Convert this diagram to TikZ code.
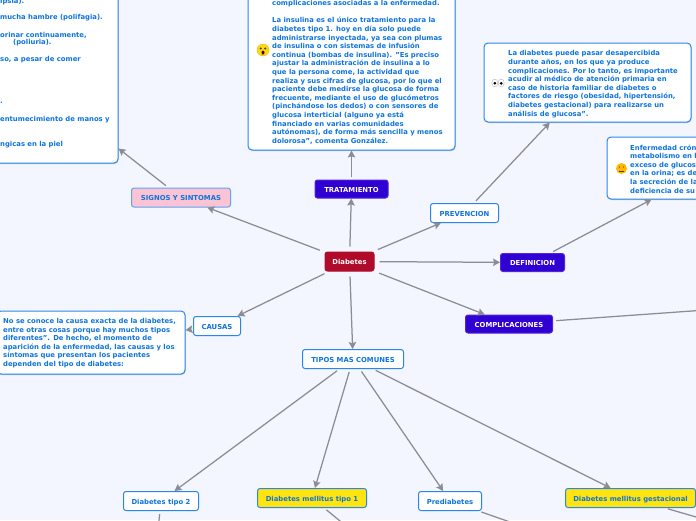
\documentclass[tikz,border=0pt]{standalone}
\usepackage{fontspec}
\setmainfont{DejaVu Sans}
\usetikzlibrary{arrows.meta,shadows}
\definecolor{pagebg}{HTML}{F3F6FF}
\definecolor{ink}{HTML}{0F74DC}
\definecolor{edgeblue}{HTML}{2A86EE}
\definecolor{conn}{HTML}{8C8C94}
\definecolor{rootred}{HTML}{B00B2A}
\definecolor{mainblue}{HTML}{3000D2}
\definecolor{pinkfill}{HTML}{FBC4D4}
\definecolor{yellowfill}{HTML}{FFE40F}
\tikzset{
  x=1pt,y=-1pt,
  txt/.style={font=\bfseries\fontsize{6.85}{8.6}\selectfont,text=ink},
  topic/.style={txt,rounded corners=2.5pt,inner sep=0pt,line width=1pt,text height=6pt,text depth=0pt},
  plainbox/.style={topic,draw=edgeblue,fill=white},
  darkbox/.style={topic,draw=mainblue!85!white,fill=mainblue,text=white},
  pinkbox/.style={topic,draw=edgeblue!75!white,fill=pinkfill},
  yellowbox/.style={topic,draw=edgeblue,fill=yellowfill},
  rootbox/.style={topic,draw=rootred,fill=rootred,text=white},
  bigbox/.style={rounded corners=4pt,draw=edgeblue,line width=1pt,fill=white,inner sep=0pt,
    drop shadow={shadow xshift=0.5pt,shadow yshift=-1pt,opacity=.35,fill=black!60}},
  bodytext/.style={txt,align=left,anchor=north west,inner sep=0pt},
  frag/.style={txt,anchor=west,inner sep=0pt},
  link/.style={draw=conn,line width=1.25pt,-{Stealth[length=7pt,width=7.5pt,inset=1.2pt]},shorten <=3pt},
  freelink/.style={draw=conn,line width=1.25pt,shorten <=3pt},
  rootlink/.style={link,shorten <=5pt}
}
\begin{document}
\begin{tikzpicture}
\useasboundingbox (0,0) rectangle (696,520);
\clip (0,0) rectangle (696,520);
\fill[pagebg] (0,0) rectangle (696,520);

% large content boxes
\node[bigbox,minimum width=240pt,minimum height=218pt] (signosbox) at (-2,54) {};
\node[bigbox,minimum width=207pt,minimum height=220pt] (tratbox) at (351.5,40) {};
\node[bigbox,minimum width=207pt,minimum height=79pt] (prevbox) at (587.5,82.5) {};
\node[bigbox,minimum width=208pt,minimum height=62pt] (defbox) at (711,168) {};
\node[bigbox,minimum width=188pt,minimum height=63pt] (causabox) at (91,342.5) {};

% text of the large boxes
\node[frag] (s1) at (0,1.5) {ipsia).};
\node[frag] (s2) at (0,18) {mucha hambre (polifagia).};
\node[frag] (s3) at (0,35) {orinar continuamente,};
\node[frag] (s4) at (13,43) {(poliuria).};
\node[frag] (s5) at (0,60) {so, a pesar de comer};
\node[frag] (s6) at (0,103) {.};
\node[frag] (s7) at (0,119.5) {entumecimiento de manos y};
\node[frag] (s8) at (0,144.5) {ngicas en la piel};

\node[bodytext] (trattext) at (272,0.3) {complicaciones asociadas a la enfermedad.\\[8.6pt]
La insulina es el único tratamiento para la\\
diabetes tipo 1. hoy en día solo puede\\
administrarse inyectada, ya sea con plumas\\
de insulina o con sistemas de infusión\\
continua (bombas de insulina). "Es preciso\\
ajustar la administración de insulina a lo\\
que la persona come, la actividad que\\
realiza y sus cifras de glucosa, por lo que el\\
paciente debe medirse la glucosa de forma\\
frecuente, mediante el uso de glucómetros\\
(pinchándose los dedos) o con sensores de\\
glucosa interticial (alguno ya está\\
financiado en varias comunidades\\
autónomas), de forma más sencilla y menos\\
dolorosa", comenta González.};

\node[bodytext] (prevtext) at (508,50.5) {La diabetes puede pasar desapercibida\\
durante años, en los que ya produce\\
complicaciones. Por lo tanto, es importante\\
acudir al médico de atención primaria en\\
caso de historia familiar de diabetes o\\
factores de riesgo (obesidad, hipertensión,\\
diabetes gestacional) para realizarse un\\
análisis de glucosa".};

\node[bodytext] (deftext) at (630,144.5) {Enfermedad crón\\
metabolismo en l\\
exceso de glucos\\
en la orina; es de\\
la secreción de la\\
deficiencia de su};

\node[bodytext] (causatext) at (3,318) {No se conoce la causa exacta de la diabetes,\\
entre otras cosas porque hay muchos tipos\\
diferentes". De hecho, el momento de\\
aparición de la enfermedad, las causas y los\\
síntomas que presentan los pacientes\\
dependen del tipo de diabetes:};

% emoticons
\fill[yellowfill!90!orange,draw=orange!70!yellow,line width=.3pt] (263,50) circle (6pt);
\fill[black!75] (260.8,48.5) circle (1.1pt) (265.2,48.5) circle (1.1pt);
\fill[black!75!red] (263,52.6) ellipse (1.5pt and 2pt);
\fill[white,draw=black!35,line width=.3pt] (494.8,83) ellipse (3pt and 4pt) (501.2,83) ellipse (3pt and 4pt);
\fill[black] (494.8,83.3) circle (1.5pt) (501.2,83.3) circle (1.5pt);
\fill[orange!55!yellow] (621.5,168.5) circle (5.5pt);
\fill[black!60!orange] (619.5,167) circle (.7pt) (623.5,167) circle (.7pt);
\draw[black!60!orange,line width=.5pt] (619,170.8) -- (624,170.8);

% topic nodes
\node[rootbox,minimum width=49pt,minimum height=19pt] (root) at (349.5,261.5) {Diabetes};
\node[darkbox,minimum width=73pt,minimum height=18pt] (trat) at (351.5,189) {TRATAMIENTO};
\node[plainbox,minimum width=68pt,minimum height=19pt] (prev) at (464.5,213) {PREVENCION};
\node[darkbox,minimum width=64pt,minimum height=18pt] (defi) at (532.5,262.5) {DEFINICION};
\node[darkbox,minimum width=87pt,minimum height=18pt] (comp) at (509,324) {COMPLICACIONES};
\node[plainbox,minimum width=101pt,minimum height=19pt] (tipos) at (353,359) {TIPOS MAS COMUNES};
\node[plainbox,minimum width=47pt,minimum height=19pt] (causas) at (217,326) {CAUSAS};
\node[pinkbox,minimum width=99pt,minimum height=19pt] (signos) at (181,197.5) {SIGNOS Y SINTOMAS};
\node[plainbox,minimum width=75pt,minimum height=19pt] (tipo2) at (161,501) {Diabetes tipo 2};
\node[yellowbox,minimum width=109pt,minimum height=19pt] (tipo1) at (312,498) {Diabetes mellitus tipo 1};
\node[plainbox,minimum width=63pt,minimum height=19pt] (predia) at (450,501) {Prediabetes};
\node[yellowbox,minimum width=130pt,minimum height=19pt] (gesta) at (630.5,498) {Diabetes mellitus gestacional};

% free ends of the connectors, beyond the page
\coordinate (compend) at (720,309);
\coordinate (tipo2end) at (157,540);
\coordinate (tipo1end) at (351,530);
\coordinate (prediaend) at (520,525.5);
\coordinate (gestaend) at (710,521);

% connectors
\draw[rootlink] (root) -- (trat);
\draw[rootlink] (root) -- (prev);
\draw[rootlink] (root) -- (defi);
\draw[rootlink] (root) -- (comp);
\draw[rootlink] (root) -- (tipos);
\draw[rootlink] (root) -- (causas);
\draw[rootlink] (root) -- (signos);
\draw[link] (signos) -- (signosbox);
\draw[link] (trat) -- (tratbox);
\draw[link] (prev) -- (prevbox);
\draw[link] (defi) -- (defbox);
\draw[link] (causas) -- (causabox);
\draw[link] (tipos) -- (tipo2);
\draw[link] (tipos) -- (tipo1);
\draw[link] (tipos) -- (predia);
\draw[link] (tipos) -- (gesta);
\draw[freelink] (comp) -- (compend);
\draw[freelink] (tipo2) -- (tipo2end);
\draw[freelink] (tipo1) -- (tipo1end);
\draw[freelink] (predia) -- (prediaend);
\draw[freelink] (gesta) -- (gestaend);
\end{tikzpicture}
\end{document}
